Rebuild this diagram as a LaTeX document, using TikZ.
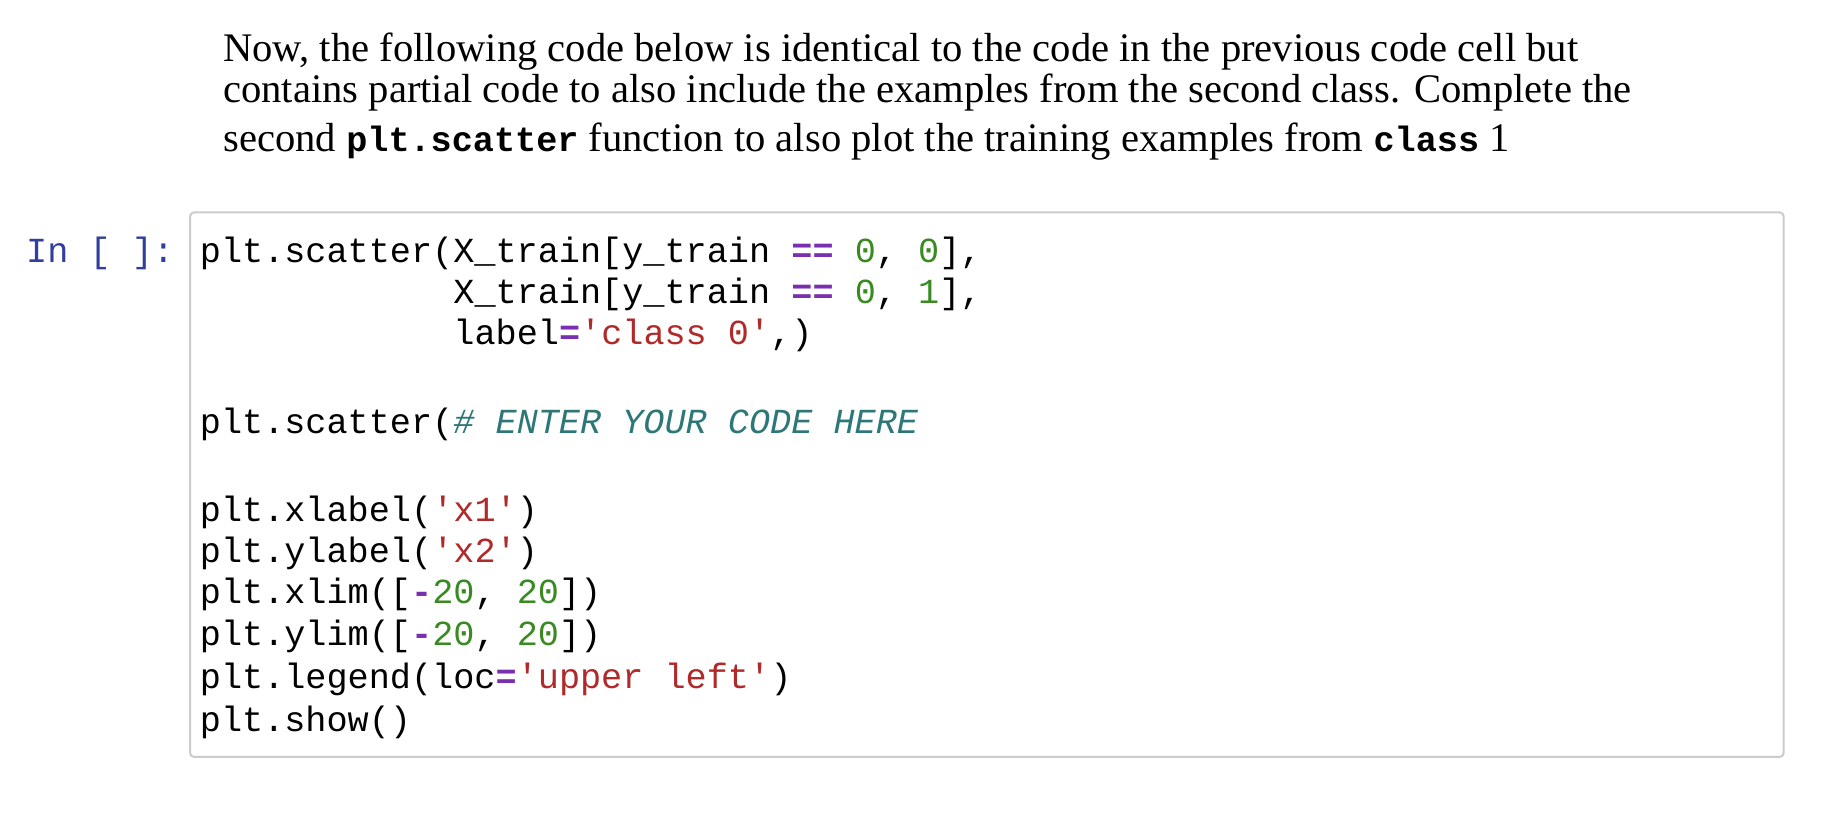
\documentclass[tikz,border=0pt]{standalone}
\usepackage{fontspec}
\setmainfont{Liberation Serif}
\setmonofont{Liberation Mono}
\definecolor{kw}{HTML}{7A2FB0}
\definecolor{num}{HTML}{3A8A22}
\definecolor{str}{HTML}{B02A2A}
\definecolor{cmt}{HTML}{2E7777}
\definecolor{prm}{HTML}{303F9F}
\begin{document}
\begin{tikzpicture}[x=0.5867pt,y=-0.5867pt,
  txt/.style={anchor=base west,inner sep=0pt,font=\fontsize{20.3}{24}\selectfont},
  code/.style={anchor=base west,inner sep=0pt,font=\ttfamily\fontsize{17.6}{20}\selectfont}]
\useasboundingbox (0,0) rectangle (1568,704);
\fill[white] (0,0) rectangle (1568,704);
\node[txt] (p1) at (190,52) {Now, the following code below is identical to the code in the previous code cell but};
\node[txt] (p2) at (190,87) {contains partial code to also include the examples from the second class. Complete the};
\node[txt] (p3) at (190,129) {second \textbf{\texttt{\fontsize{17.6}{20}\selectfont plt.scatter}} function to also plot the training examples from \textbf{\texttt{\fontsize{17.6}{20}\selectfont class}} 1};
\draw[black!20,line width=1pt,rounded corners=2pt] (162,181) rectangle (1520,645);
\node[code,text=prm] (in) at (22,224) {In [ ]:};
\node[code] (c1) at (170,224) {plt.scatter(X\_train[y\_train \textcolor{kw}{\bfseries ==} \textcolor{num}{0}, \textcolor{num}{0}],};
\node[code] (c2) at (170,259) {\phantom{plt.scatter(}X\_train[y\_train \textcolor{kw}{\bfseries ==} \textcolor{num}{0}, \textcolor{num}{1}],};
\node[code] (c3) at (170,294) {\phantom{plt.scatter(}label\textcolor{kw}{\bfseries =}\textcolor{str}{'class 0'},)};
\node[code] (c4) at (170,369) {plt.scatter(\textcolor{cmt}{\itshape \# ENTER YOUR CODE HERE}};
\node[code] (c5) at (170,444) {plt.xlabel(\textcolor{str}{'x1'})};
\node[code] (c6) at (170,479) {plt.ylabel(\textcolor{str}{'x2'})};
\node[code] (c7) at (170,514) {plt.xlim([\textcolor{kw}{\bfseries -}\textcolor{num}{20}, \textcolor{num}{20}])};
\node[code] (c8) at (170,550) {plt.ylim([\textcolor{kw}{\bfseries -}\textcolor{num}{20}, \textcolor{num}{20}])};
\node[code] (c9) at (170,587) {plt.legend(loc\textcolor{kw}{\bfseries =}\textcolor{str}{'upper left'})};
\node[code] (c10) at (170,623) {plt.show()};
\end{tikzpicture}
\end{document}
